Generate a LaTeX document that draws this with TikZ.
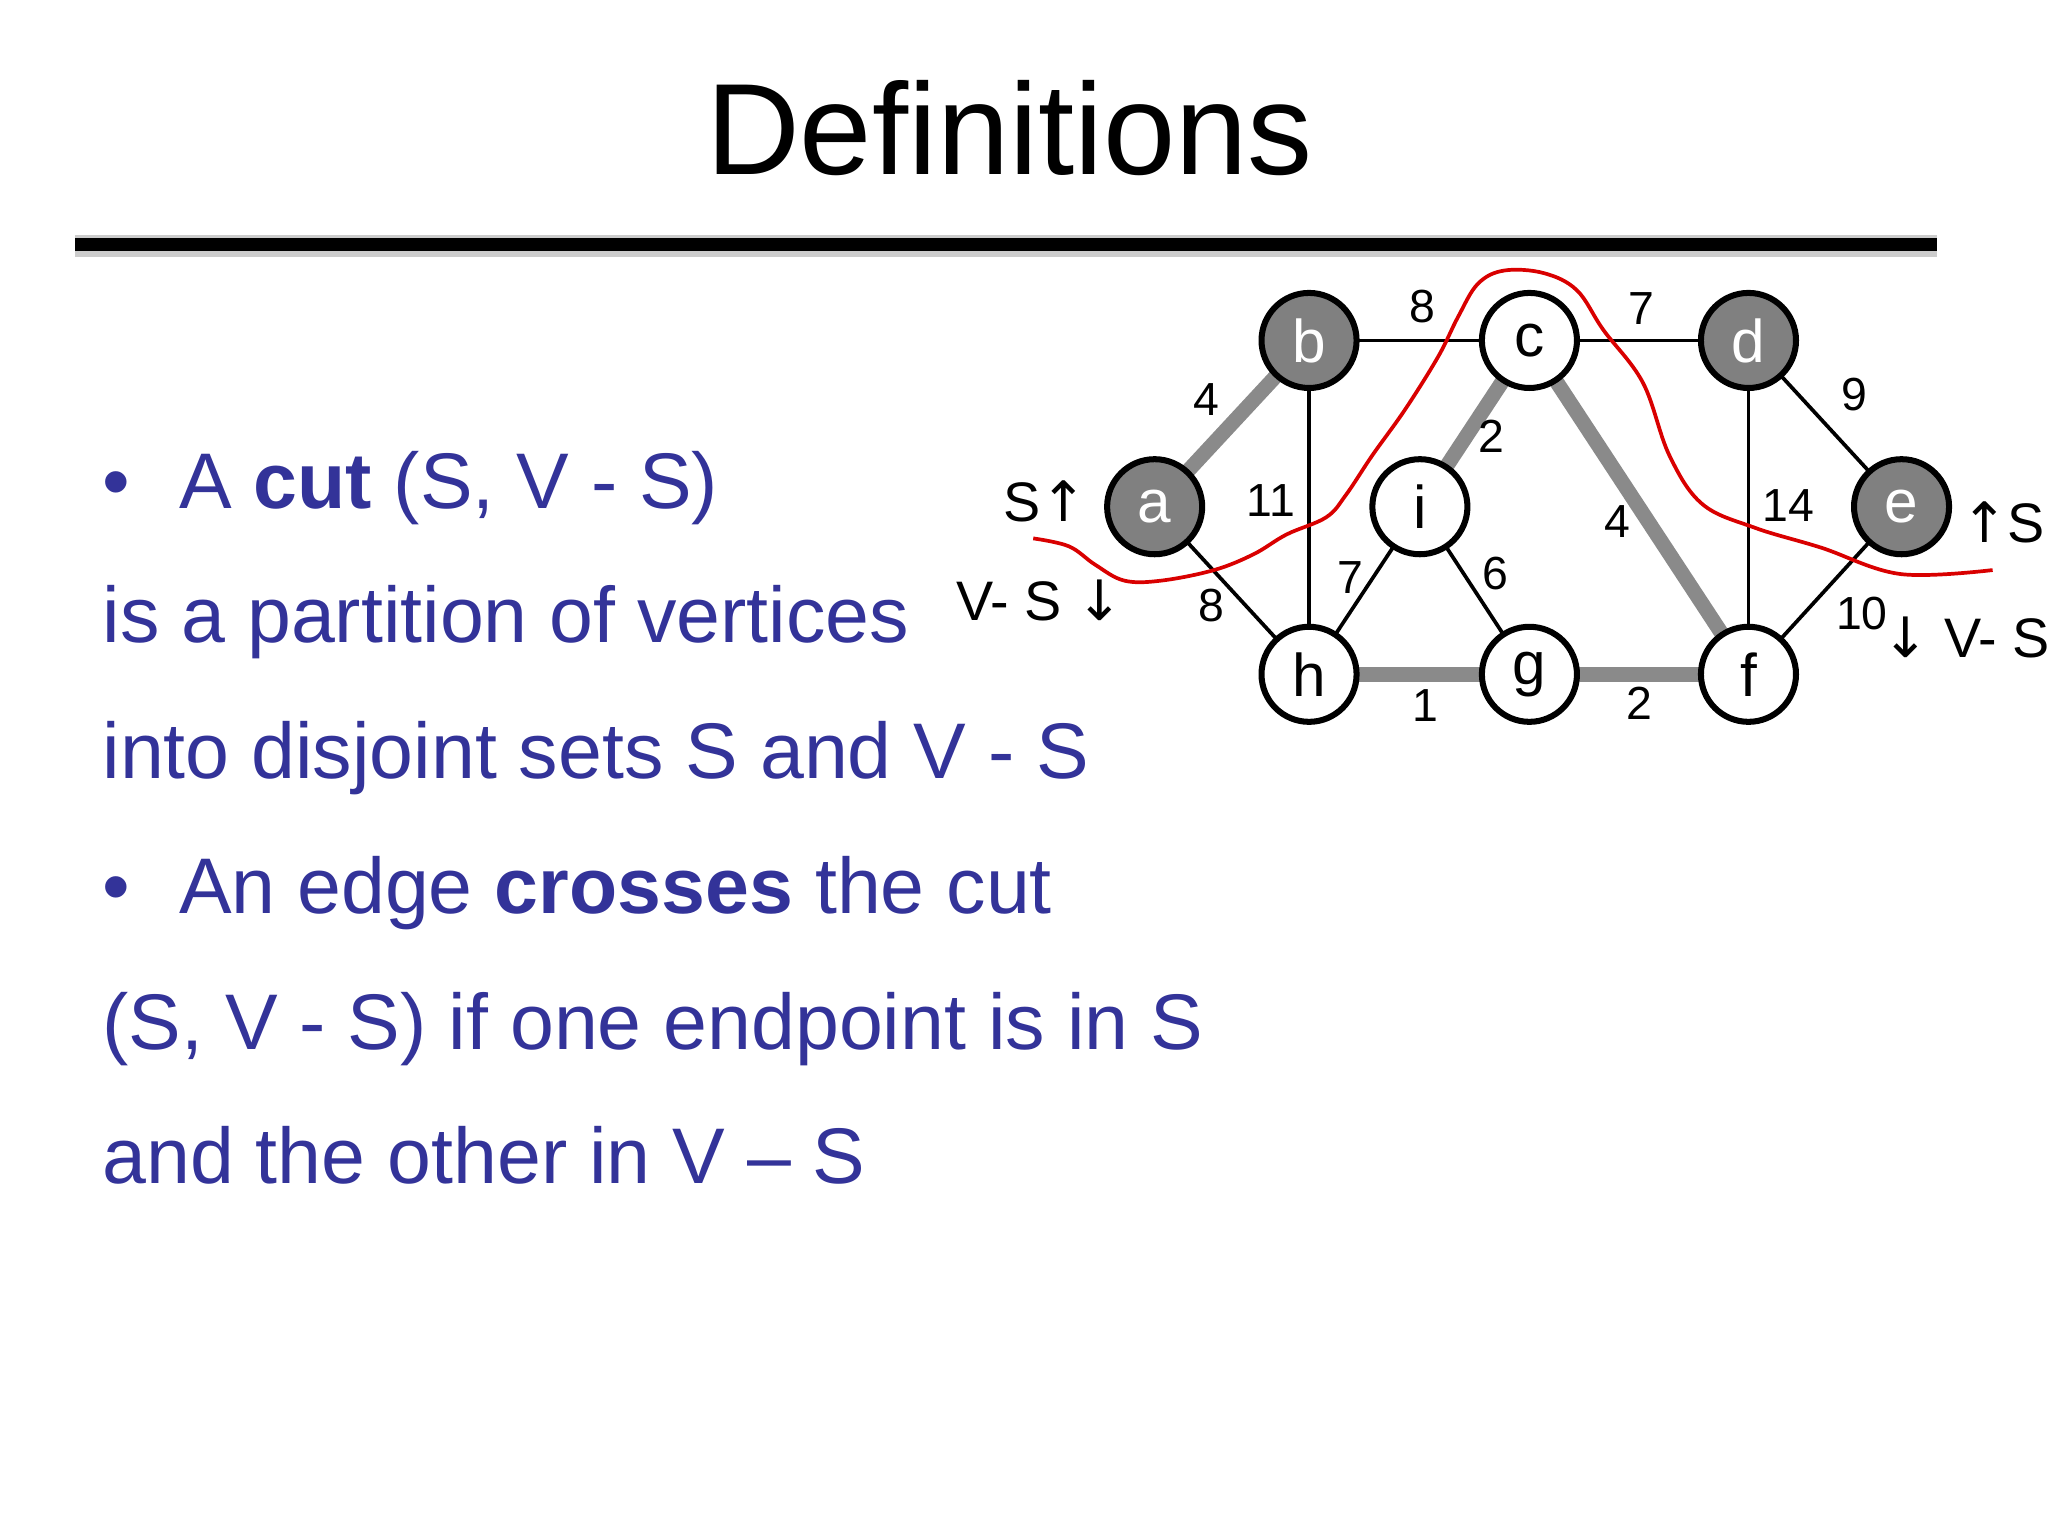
\documentclass[tikz,border=0pt]{standalone}
\usepackage{fontspec}
\setmainfont{Liberation Sans}
\newfontfamily\djv{DejaVu Sans}
\definecolor{txt}{HTML}{333399}
\definecolor{nodegray}{HTML}{808080}
\definecolor{edgegray}{HTML}{8A8A8A}
\begin{document}
\begin{tikzpicture}[x=0.01cm,y=-0.01cm,
  vtx/.style={circle,draw=black,line width=1.3pt,minimum size=0.72cm,inner sep=0pt,font=\fontsize{13}{13}\selectfont},
  dark/.style={vtx,fill=nodegray,text=white},
  light/.style={vtx,fill=white},
  thin/.style={line width=0.8pt,black},
  thick/.style={line width=3.2pt,edgegray},
  wl/.style={font=\fontsize{10}{10}\selectfont,inner sep=0pt},
  body/.style={anchor=base west,text=txt,font=\fontsize{17}{17}\selectfont,inner sep=0pt}]
\useasboundingbox (0,0) rectangle (1552,1164);
\fill[white] (0,0) rectangle (1552,1164);
\node[font=\fontsize{28}{28}\selectfont] (title) at (765,97) {Definitions};
\fill[gray!40] (57,178) rectangle (1468,195);
\fill[black] (57,180) rectangle (1468,190);
% body text
\node[body] (b1) at (77,385) {•};
\node[body] (t1) at (135,385) {A \textbf{cut} (S, V - S)};
\node[body] (t2) at (77,487) {is a partition of vertices};
\node[body] (t3) at (77,590) {into disjoint sets S and V - S};
\node[body] (b2) at (77,692) {•};
\node[body] (t4) at (135,692) {An edge \textbf{crosses} the cut};
\node[body] (t5) at (77,795) {(S, V - S) if one endpoint is in S};
\node[body] (t6) at (77,897) {and the other in V – S};
% edges first (under nodes) via coordinates
\coordinate (pb) at (992,258);
\coordinate (pc) at (1159,258);
\coordinate (pd) at (1325,258);
\coordinate (pa) at (875,384);
\coordinate (pi) at (1076,384);
\coordinate (pe) at (1441,384);
\coordinate (ph) at (992,511);
\coordinate (pg) at (1159,511);
\coordinate (pf) at (1325,511);
\draw[thick] (pa) -- (pb);
\draw[thin] (pb) -- (pc);
\draw[thin] (pc) -- (pd);
\draw[thin] (pb) -- (ph);
\draw[thin] (pa) -- (ph);
\draw[thick] (pc) -- (pi);
\draw[thick] (pc) -- (pf);
\draw[thin] (pd) -- (pf);
\draw[thin] (pd) -- (pe);
\draw[thin] (pe) -- (pf);
\draw[thin] (pi) -- (ph);
\draw[thin] (pi) -- (pg);
\draw[thick] (ph) -- (pg);
\draw[thick] (pg) -- (pf);
% graph nodes
\node[dark] (b) at (pb) {b};
\node[light] (c) at (pc) {c};
\node[dark] (d) at (pd) {d};
\node[dark] (a) at (pa) {a};
\node[light] (i) at (pi) {i};
\node[dark] (e) at (pe) {e};
\node[light] (h) at (ph) {h};
\node[light] (g) at (pg) {g};
\node[light] (f) at (pf) {f};
% weights
\node[wl] (w1) at (1078,232) {8};
\node[wl] (w2) at (1244,234) {7};
\node[wl] (w3) at (914,303) {4};
\node[wl] (w4) at (1130,331) {2};
\node[wl] (w5) at (1405,299) {9};
\node[wl] (w6) at (963,379) {11};
\node[wl] (w7) at (1226,395) {4};
\node[wl] (w8) at (1355,383) {14};
\node[wl] (w9) at (1023,438) {7};
\node[wl] (w10) at (1133,435) {6};
\node[wl] (w11) at (918,459) {8};
\node[wl] (w12) at (1411,465) {10};
\node[wl] (w13) at (1080,535) {1};
\node[wl] (w14) at (1242,533) {2};
% side labels
\node[wl,font=\fontsize{12}{12}\selectfont] (s1) at (792,380) {S{\djv↑}};
\node[wl,font=\fontsize{12}{12}\selectfont] (s2) at (788,455) {V- S {\djv↓}};
\node[wl,font=\fontsize{12}{12}\selectfont] (s3) at (1518,396) {{\djv↑}S};
\node[wl,font=\fontsize{12}{12}\selectfont] (s4) at (1490,483) {{\djv↓} V- S};
% cut curve
\draw[red!85!black,line width=0.8pt] plot[smooth,tension=0.6] coordinates {
(783,408) (810,414) (830,428) (852,440) (880,440) (920,432) (950,420) (975,405) (1005,392) (1020,375) (1040,345) (1065,310) (1090,270) (1105,240) (1120,215) (1140,205) (1170,207) (1195,220) (1215,250) (1245,290) (1265,345) (1290,382) (1330,400) (1380,415) (1440,435) (1510,432)};
\end{tikzpicture}
\end{document}
